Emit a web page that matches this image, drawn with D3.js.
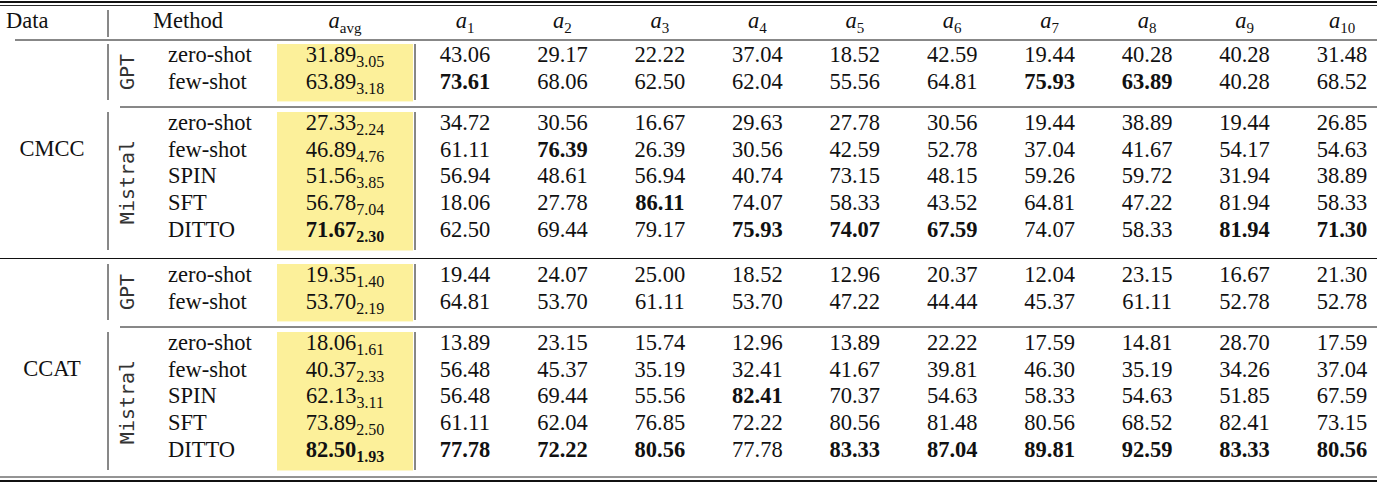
<!DOCTYPE html>
<html><head><meta charset="utf-8">
<script src="https://cdn.jsdelivr.net/npm/d3@7"></script>
<style>body{margin:0;background:#fff}text{font-family:"Liberation Serif",serif;fill:#111}</style>
</head><body><div id="chart"></div>
<script>
const datasets = ["CMCC", "CCAT"];
const models = ["GPT", "Mistral"];
const gptMethods = ["zero-shot", "few-shot"];
const mistralMethods = ["zero-shot", "few-shot", "SPIN", "SFT", "DITTO"];
const columns = ["a1","a2","a3","a4","a5","a6","a7","a8","a9","a10"];

const avgCMCC = [[31.89,3.05],[63.89,3.18],[27.33,2.24],[46.89,4.76],[51.56,3.85],[56.78,7.04],[71.67,2.30]];
const avgCCAT = [[19.35,1.40],[53.70,2.19],[18.06,1.61],[40.37,2.33],[62.13,3.11],[73.89,2.50],[82.50,1.93]];
const valsCMCC = [
  [43.06,29.17,22.22,37.04,18.52,42.59,19.44,40.28,40.28,31.48],
  [73.61,68.06,62.50,62.04,55.56,64.81,75.93,63.89,40.28,68.52],
  [34.72,30.56,16.67,29.63,27.78,30.56,19.44,38.89,19.44,26.85],
  [61.11,76.39,26.39,30.56,42.59,52.78,37.04,41.67,54.17,54.63],
  [56.94,48.61,56.94,40.74,73.15,48.15,59.26,59.72,31.94,38.89],
  [18.06,27.78,86.11,74.07,58.33,43.52,64.81,47.22,81.94,58.33],
  [62.50,69.44,79.17,75.93,74.07,67.59,74.07,58.33,81.94,71.30]
];
const valsCCAT = [
  [19.44,24.07,25.00,18.52,12.96,20.37,12.04,23.15,16.67,21.30],
  [64.81,53.70,61.11,53.70,47.22,44.44,45.37,61.11,52.78,52.78],
  [13.89,23.15,15.74,12.96,13.89,22.22,17.59,14.81,28.70,17.59],
  [56.48,45.37,35.19,32.41,41.67,39.81,46.30,35.19,34.26,37.04],
  [56.48,69.44,55.56,82.41,70.37,54.63,58.33,54.63,51.85,67.59],
  [61.11,62.04,76.85,72.22,80.56,81.48,80.56,68.52,82.41,73.15],
  [77.78,72.22,80.56,77.78,83.33,87.04,89.81,92.59,83.33,80.56]
];
// bold cells: [row, colIndex] (-1 = avg)
const boldCMCC = [[1,0],[1,6],[1,7],[3,1],[5,2],[6,-1],[6,3],[6,4],[6,5],[6,8],[6,9]];
const boldCCAT = [[4,3],[6,-1],[6,0],[6,1],[6,2],[6,4],[6,5],[6,6],[6,7],[6,8],[6,9]];

const W = 1377, H = 485;
const svg = d3.select("#chart").append("svg").attr("width", W).attr("height", H);
const x = d3.scalePoint().domain(columns).range([465, 1342]);
const fs = 22.5;

// header
svg.append("line").attr("x1",0).attr("x2",W).attr("y1",2).attr("y2",2).attr("stroke","#111").attr("stroke-width",2);
svg.append("line").attr("x1",0).attr("x2",W).attr("y1",5.5).attr("y2",5.5).attr("stroke","#111").attr("stroke-width",0.9);
svg.append("text").attr("x",6).attr("y",28).attr("font-size",fs).text("Data");
svg.append("line").attr("x1",108).attr("x2",108).attr("y1",10).attr("y2",37).attr("stroke","#111");
svg.append("text").attr("x",153).attr("y",28).attr("font-size",fs).text("Method");
const ha = svg.append("text").attr("x",345).attr("y",28).attr("text-anchor","middle").attr("font-size",fs);
ha.append("tspan").attr("font-style","italic").text("a");
ha.append("tspan").attr("font-size",15).attr("dy",5).text("avg");
columns.forEach(c => {
  const t = svg.append("text").attr("x",x(c)).attr("y",28).attr("text-anchor","middle").attr("font-size",fs);
  t.append("tspan").attr("font-style","italic").text("a");
  t.append("tspan").attr("font-size",15).attr("dy",5).text(c.slice(1));
});
svg.append("line").attr("x1",15).attr("x2",W).attr("y1",40).attr("y2",40).attr("stroke","#111");

const rowH = 26.7;
function block(name, avg, vals, bold, top) {
  const isBold = (r, c) => bold.some(b => b[0] === r && b[1] === c);
  const ys = [top+22, top+22+rowH, top+90, top+90+rowH, top+90+2*rowH, top+90+3*rowH, top+90+4*rowH];
  svg.append("rect").attr("x",277).attr("y",top+4).attr("width",136).attr("height",2*rowH+4).attr("fill","#fcf09a");
  svg.append("rect").attr("x",277).attr("y",top+72).attr("width",136).attr("height",5*rowH+5).attr("fill","#fcf09a");
  [[top+4,top+60],[top+72,top+210]].forEach(([a,b]) => {
    svg.append("line").attr("x1",108).attr("x2",108).attr("y1",a).attr("y2",b).attr("stroke","#111");
    svg.append("line").attr("x1",415).attr("x2",415).attr("y1",a).attr("y2",b).attr("stroke","#111");
  });
  svg.append("line").attr("x1",120).attr("x2",W).attr("y1",top+67).attr("y2",top+67).attr("stroke","#111");
  svg.append("text").attr("x",52).attr("y",top+116).attr("text-anchor","middle").attr("font-size",fs).text(name);
  [[models[0], top+32],[models[1], top+142]].forEach(([m, cy]) => {
    svg.append("text").attr("transform",`translate(134,${cy}) rotate(-90)`).attr("text-anchor","middle")
      .attr("font-size",20).style("font-family","'DejaVu Sans Mono', monospace").style("font-weight","200")
      .style("fill","#333").text(m);
  });
  const methods = gptMethods.concat(mistralMethods);
  methods.forEach((m, r) => {
    svg.append("text").attr("x",168).attr("y",ys[r]).attr("font-size",fs).text(m);
    const t = svg.append("text").attr("x",345).attr("y",ys[r]).attr("text-anchor","middle").attr("font-size",fs)
      .attr("font-weight", isBold(r,-1) ? "bold" : null);
    t.append("tspan").text(avg[r][0].toFixed(2));
    t.append("tspan").attr("font-size",16).attr("dy",5).text(avg[r][1].toFixed(2));
    columns.forEach((c, i) => {
      svg.append("text").attr("x",x(c)).attr("y",ys[r]).attr("text-anchor","middle").attr("font-size",fs)
        .attr("font-weight", isBold(r,i) ? "bold" : null).text(vals[r][i].toFixed(2));
    });
  });
}
block(datasets[0], avgCMCC, valsCMCC, boldCMCC, 40);
svg.append("line").attr("x1",0).attr("x2",W).attr("y1",258.5).attr("y2",258.5).attr("stroke","#111").attr("stroke-width",1.2);
block(datasets[1], avgCCAT, valsCCAT, boldCCAT, 260);
svg.append("line").attr("x1",0).attr("x2",W).attr("y1",477).attr("y2",477).attr("stroke","#111").attr("stroke-width",0.9);
svg.append("line").attr("x1",0).attr("x2",W).attr("y1",481).attr("y2",481).attr("stroke","#111").attr("stroke-width",2);
</script></body></html>
